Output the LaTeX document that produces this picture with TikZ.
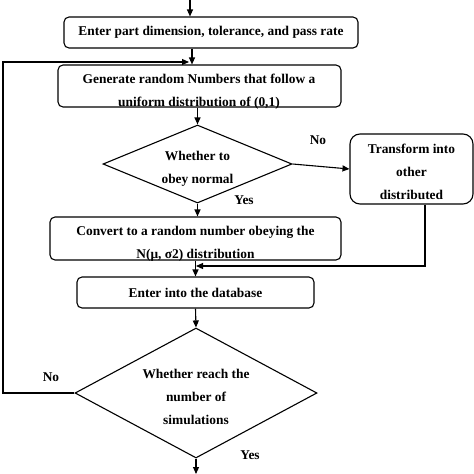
\documentclass[tikz,border=0pt]{standalone}
\usepackage{fontspec}
\setmainfont{Liberation Serif}
\usetikzlibrary{shapes.geometric}
\usetikzlibrary{arrows.meta}
\tikzset{
  box/.style={draw, rounded corners=5pt, line width=1.1pt, inner sep=0pt},
  dec/.style={draw, diamond, line width=1.1pt, inner sep=0pt},
  txt/.style={font=\fontsize{13.4}{23}\selectfont\bfseries, align=center, inner sep=0pt},
  arr/.style={-{Triangle[length=7pt,width=6pt]}, line width=1.1pt},
}

\begin{document}
\begin{tikzpicture}[x=1pt,y=-1pt]
  \def\mx{196};
  \def\lx{3};
  \useasboundingbox (0,0) rectangle (474,474);
  %boxes
  \node[box, minimum width=294, minimum height=31] (enter) at (211,32.5) {};
  \node[box, minimum width=283, minimum height=42] (gen) at (199.5,86) {};
  \node[dec, minimum width=189, minimum height=78] (obey) at (197.5,164) {};
  \node[box, rounded corners=10pt, minimum width=123, minimum height=70] (trans) at (411.5,169) {};
  \node[box, minimum width=291, minimum height=43] (conv) at (195.5,238.5) {};
  \node[box, minimum width=237, minimum height=31] (db) at (195.5,292.5) {};
  \node[dec, minimum width=242, minimum height=130] (reach) at (\mx,393) {};
  %texts
  \node[txt] (enter-t) at (enter.center) {Enter part dimension, tolerance, and pass rate};
  \node[txt] (gen-t) at (199,91.5) {Generate random Numbers that follow a\\uniform distribution of (0,1)};
  \node[txt] (obey-t) at (197.5,168.5) {Whether to\\obey normal};
  \node[txt] (trans-t) at (411.5,172) {Transform into\\other\\distributed};
  \node[txt] (conv-t) at (195.5,243.5) {Convert to a random number obeying the\\N(μ, σ2) distribution};
  \node[txt] (db-t) at (db.center) {Enter into the database};
  \node[txt] (reach-t) at (\mx,396.5) {Whether reach the\\number of\\simulations};
  \node[txt] (no1) at (318,140) {No};
  \node[txt] (yes1) at (244,200) {Yes};
  \node[txt] (no2) at (51,377) {No};
  \node[txt] (yes2) at (250,455) {Yes};
  %connectors
  \coordinate (start) at (190,0);
  \coordinate (join) at (\mx,266);
  \coordinate (stop) at (\mx,474);
  \coordinate (back) at (\lx,62);
  \coordinate (backend) at (189,62);
  \draw[arr] (start) -- (start |- enter.north);
  \draw[arr] ([xshift=-19pt]enter.south) -- ([xshift=-7.5pt]gen.north);
  \draw[arr] (gen.south -| obey.north) -- (obey.north);
  \draw[arr] (obey.east) -- (trans.west);
  \draw[arr] (obey.south) -- (obey.south |- conv.north);
  \draw[arr] (conv.south -| db.north) -- (db.north);
  \draw[arr] ([xshift=13.5pt]trans.south) |- (join);
  \draw[arr] (db.south) -- (reach.north);
  \draw[arr] (reach.south) -- (stop);
  \draw[arr] (reach.west) -| (back) -- (backend);
\end{tikzpicture}
\end{document}
